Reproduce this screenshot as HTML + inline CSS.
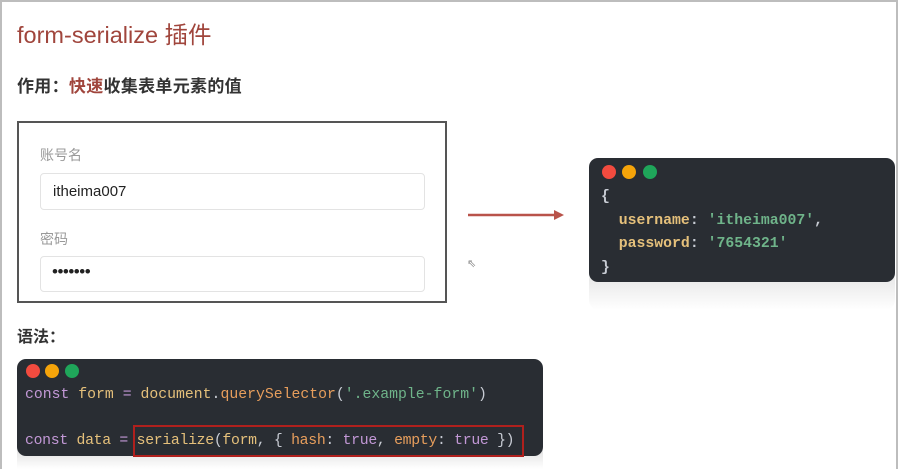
<!DOCTYPE html>
<html><head><meta charset="utf-8"><style>
*{margin:0;padding:0;box-sizing:border-box}
body{width:900px;height:469px;background:#fff;position:relative;overflow:hidden;font-family:"Liberation Sans","Noto Sans CJK SC",sans-serif}
.abs{position:absolute}
.frame{left:0;top:0;width:898px;height:469px;border:2px solid #bdbdbd;border-bottom:none}
.mono{font-family:"Liberation Mono","DejaVu Sans Mono",monospace;font-size:14.8px;white-space:pre;color:#c8ccd4}
.dot{width:14px;height:14px;border-radius:50%}
.code{background:#292d33;border-radius:9px}
.k{color:#c298d6}.v{color:#e5c07b}.g{color:#6fb48a}.p{color:#c8ccd4}.o{color:#e79e5c}
</style></head><body>
<div class="abs frame"></div>
<div class="abs" style="left:17px;top:16px;font-size:23.5px;color:#a0453c">form-serialize 插件</div>
<div class="abs" style="left:17px;top:72px;font-size:17px;font-weight:bold;color:#333;letter-spacing:0.3px">作用：<span style="color:#a0453c">快速</span>收集表单元素的值</div>

<div class="abs" style="left:17px;top:121px;width:430px;height:182px;border:2px solid #555;background:#fff"></div>
<div class="abs" style="left:40px;top:145px;font-size:14px;color:#999">账号名</div>
<div class="abs" style="left:40px;top:173px;width:385px;height:37px;border:1px solid #e3e3e3;border-radius:4px;font-size:15px;color:#222;padding:9px 12px">itheima007</div>
<div class="abs" style="left:40px;top:229px;font-size:14px;color:#999">密码</div>
<div class="abs" style="left:40px;top:256px;width:385px;height:36px;border:1px solid #e3e3e3;border-radius:4px;font-size:17px;color:#222;padding:5px 11px;letter-spacing:-0.5px">•••••••</div>

<svg class="abs" style="left:466px;top:206px" width="100" height="20"><line x1="2" y1="9" x2="90" y2="9" stroke="#b9534a" stroke-width="2.5"/><polygon points="88,4 98,9 88,14" fill="#b9534a"/></svg>
<div class="abs" style="left:467px;top:257px;font-size:11px;color:#888">⇖</div>

<div class="abs" style="left:589px;top:270px;width:306px;height:40px;background:linear-gradient(#d0d0d0,#fff);border-radius:10px;opacity:.6"></div>
<div class="abs code" style="left:589px;top:158px;width:306px;height:124px"></div>
<div class="abs dot" style="left:602px;top:165px;background:#f24b3f"></div>
<div class="abs dot" style="left:622px;top:165px;background:#f5a40a"></div>
<div class="abs dot" style="left:643px;top:165px;background:#1fa65a"></div>
<div class="abs mono" style="left:601px;top:186px;line-height:23.5px;font-weight:bold"><span class="p">{</span>
  <span class="v">username</span><span class="p">:</span> <span class="g">'itheima007'</span><span class="p">,</span>
  <span class="v">password</span><span class="p">:</span> <span class="g">'7654321'</span>
<span class="p">}</span></div>

<div class="abs" style="left:17px;top:323px;font-size:16px;font-weight:bold;color:#333">语法：</div>
<div class="abs" style="left:17px;top:450px;width:526px;height:19px;background:linear-gradient(#d0d0d0,#fff);opacity:.6"></div>
<div class="abs code" style="left:17px;top:359px;width:526px;height:97px"></div>
<div class="abs dot" style="left:26px;top:364px;background:#f24b3f"></div>
<div class="abs dot" style="left:45px;top:364px;background:#f5a40a"></div>
<div class="abs dot" style="left:65px;top:364px;background:#1fa65a"></div>
<div class="abs mono" style="left:25px;top:387px"><span class="k">const</span> <span class="v">form</span> <span class="k">=</span> <span class="v">document</span>.<span class="o">querySelector</span>(<span class="g">'.example-form'</span>)</div>
<div class="abs mono" style="left:25px;top:433px;letter-spacing:-0.3px"><span class="k">const</span> <span class="v">data</span> <span class="k">=</span> <span class="v">serialize</span>(<span class="v">form</span>, { <span class="o">hash</span>: <span class="k">true</span>, <span class="o">empty</span>: <span class="k">true</span> })</div>
<div class="abs" style="left:133px;top:425px;width:391px;height:32px;border:2px solid #b0201d"></div>
</body></html>
